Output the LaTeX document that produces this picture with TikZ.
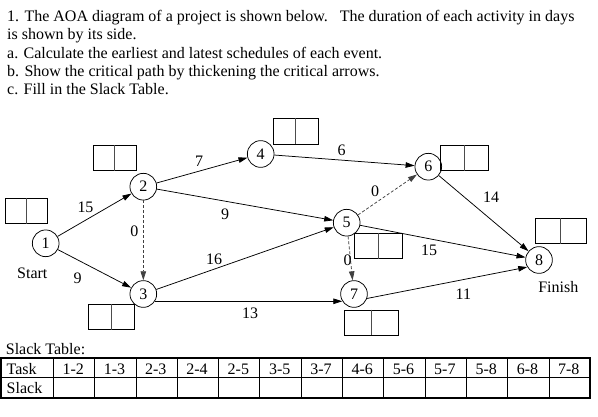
\documentclass[tikz,border=0pt]{standalone}
\usepackage{fontspec}
\setmainfont{Liberation Serif}
\usetikzlibrary{arrows.meta}
\begin{document}
\begin{tikzpicture}[x=1pt,y=-1pt,
  font=\fontsize{16}{18}\selectfont,
  txt/.style={inner sep=0pt,anchor=base west},
  ev/.style={circle,draw,line width=0.75pt,minimum size=26.7pt,inner sep=0pt},
  lab/.style={inner sep=0pt},
  sbox/.style={draw,line width=0.75pt,inner sep=0pt},
  arr/.style={line width=0.75pt,-{Triangle[length=9pt,width=5.5pt]}},
  dum/.style={arr,draw=black!75,dash pattern=on 3pt off 2pt},
  thin/.style={line width=0.75pt},
  thick/.style={line width=2pt}]
\useasboundingbox (0,0) rectangle (598,417);
% header text
\node[txt] (t1) at (7,21.5) {1. The AOA diagram of a project is shown below.\hspace{12pt}The duration of each activity in days};
\node[txt] (t2) at (7,40) {is shown by its side.};
\node[txt] (t3) at (7,58.2) {a. Calculate the earliest and latest schedules of each event.};
\node[txt] (t4) at (7,76.4) {b. Show the critical path by thickening the critical arrows.};
\node[txt] (t5) at (7,94.6) {c. Fill in the Slack Table.};
% events
\node[ev] (n1) at (45.7,243.3) {1};
\node[ev] (n2) at (143.3,186.7) {2};
\node[ev] (n3) at (143.3,294) {3};
\node[ev] (n4) at (260.7,154) {4};
\node[ev] (n5) at (346.7,222.7) {5};
\node[ev] (n6) at (428.3,166.7) {6};
\node[ev] (n7) at (354,294) {7};
\node[ev] (n8) at (539,260) {8};
% boxes
\foreach \n/\xa/\ya/\xb/\yb in {1/5/198.3/47.7/223.3, 2/93.3/145.7/136.3/170.7, 3/88.3/304.3/134.3/329.3, 4/273.3/118.3/318.3/144, 5/354.3/233.3/402.3/258.3, 6/440.7/145.7/488.3/170.3, 7/344.3/310/398.3/335, 8/535.7/218.3/586/243.3}{
  \node[sbox,minimum width={\xb-\xa},minimum height={\yb-\ya}] (b\n) at ({(\xa+\xb)/2},{(\ya+\yb)/2}) {};
  \draw[line width=0.75pt,black!70] (b\n.north) -- (b\n.south);
}
% activities
\draw[arr] (n1) -- (n2);
\draw[arr] (n1) -- (n3);
\draw[dum] (n2) -- (n3);
\draw[arr] (n2) -- (n4);
\draw[arr] (n2) -- (n5);
\draw[arr] (n3) -- (n5);
\draw[arr] (n3.-32) -- (n7.212);
\draw[arr] (n4) -- (n6);
\draw[dum] (n5) -- (n6);
\draw[dum] (n5) -- (n7);
\draw[arr] (n5) -- (n8);
\draw[arr] (n6) -- (n8);
\draw[arr] (n7.-19) -- (n8.211);
% labels
\node[lab] (l12) at (85.5,207.5) {15};
\node[lab] (l13) at (77.5,278.5) {9};
\node[lab] (l23) at (134.3,231) {0};
\node[lab] (l24) at (199,161.7) {7};
\node[lab] (l25) at (225,214) {9};
\node[lab] (l35) at (214,259) {16};
\node[lab] (l37) at (250,313.3) {13};
\node[lab] (l46) at (341.7,150.7) {6};
\node[lab] (l56) at (375,191.7) {0};
\node[lab] (l68) at (491,197.7) {14};
\node[lab] (l58) at (429,250.7) {15};
\node[lab] (l57) at (347.7,260) {0};
\node[lab] (l78) at (463.3,294.3) {11};
\node[lab] (start) at (32.3,273.5) {Start};
\node[lab] (finish) at (558.3,286.7) {Finish};
% slack table
\node[txt] (st) at (5.7,354.3) {Slack Table:};
\coordinate (tl) at (1,357.7);
\coordinate (br) at (590,397.7);
\draw[thin] (1,377.7) -- (590,377.7);
\draw[thin] (53.3,357.7) -- (53.3,397.7);
\foreach \i in {1,...,12}{
  \draw[thin] ({53.3+41.3*\i},357.7) -- ({53.3+41.3*\i},397.7);
}
\draw[thick] (tl) rectangle (br);
\node[txt] (task) at (6.5,374) {Task};
\node[txt] (slack) at (6.5,393.3) {Slack};
\foreach \t [count=\i from 0] in {1-2,1-3,2-3,2-4,2-5,3-5,3-7,4-6,5-6,5-7,5-8,6-8,7-8}{
  \node[txt] (c\i) at ({53.3+41.3*\i+9},374) {\t};
}
\end{tikzpicture}
\end{document}
